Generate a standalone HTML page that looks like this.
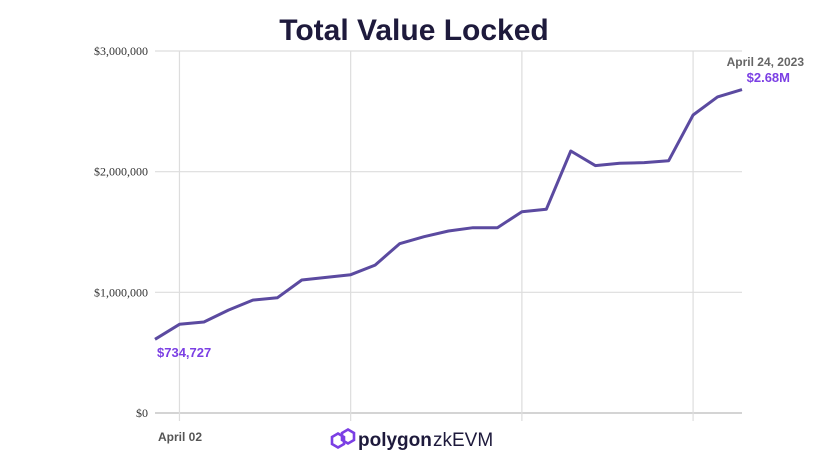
<!DOCTYPE html>
<html><head><meta charset="utf-8"><style>
body{margin:0;background:#fff;width:829px;height:461px;overflow:hidden}
svg{display:block}
</style></head><body>
<svg id="chart" width="829" height="461" xmlns="http://www.w3.org/2000/svg">
<text x="414" y="40" text-anchor="middle" font-family="Liberation Sans, sans-serif" font-weight="bold" font-size="30" fill="#1e1a3c">Total Value Locked</text>
<g id="grid"></g><g id="yticks"></g>
<path id="line" fill="none" stroke="#5b4aa0" stroke-width="3" stroke-linejoin="round"/>
<text x="157" y="357" font-family="Liberation Sans, sans-serif" font-weight="bold" font-size="13" fill="#7b3fe4">$734,727</text>
<text x="158" y="441" font-family="Liberation Sans, sans-serif" font-weight="bold" font-size="12" fill="#555">April 02</text>
<text x="804" y="66" text-anchor="end" font-family="Liberation Sans, sans-serif" font-weight="bold" font-size="12" fill="#666">April 24, 2023</text>
<text x="790" y="82" text-anchor="end" font-family="Liberation Sans, sans-serif" font-weight="bold" font-size="13" fill="#7b3fe4">$2.68M</text>
<g>
<path d="M332 437 l6-3.5 6 3.5 v7 l-6 3.5 -6-3.5z M342 433 l6-3.5 6 3.5 v7 l-6 3.5 -6-3.5z" fill="none" stroke="#7b3fe4" stroke-width="2.6"/>
<text x="358" y="446" font-family="Liberation Sans, sans-serif" font-weight="bold" font-size="19" fill="#1e1a3c">polygon</text>
<text x="433" y="446" font-family="Liberation Sans, sans-serif" font-size="19" fill="#1e1a3c">zkEVM</text>
</g>
</svg>
<script>
const values=[0.611,0.735,0.754,0.853,0.936,0.955,1.102,1.124,1.146,1.226,1.403,1.461,1.508,1.536,1.536,1.668,1.688,2.171,2.05,2.069,2.075,2.09,2.47,2.62,2.68];
const yTicks=[0,1000000,2000000,3000000];
const yTickLabels=["$0","$1,000,000","$2,000,000","$3,000,000"];
const xGridIdx=[1,8,15,22];
const ns="http://www.w3.org/2000/svg";
const X=i=>155+i*(742-155)/(values.length-1);
const Y=v=>413-v/3000000*362;
const grid=document.getElementById('grid'),yt=document.getElementById('yticks');
yTicks.forEach((t,k)=>{
 const l=document.createElementNS(ns,'line');
 l.setAttribute('x1',155);l.setAttribute('x2',742);l.setAttribute('y1',Y(t));l.setAttribute('y2',Y(t));
 l.setAttribute('stroke',k==0?'#bbb':'#ddd');l.setAttribute('stroke-width',1.2);
 
 
 grid.appendChild(l);
 const tx=document.createElementNS(ns,'text');
 tx.setAttribute('x',148);tx.setAttribute('y',Y(t)+4);tx.setAttribute('text-anchor','end');
 tx.setAttribute('font-family','Liberation Serif, serif');tx.setAttribute('font-size','12');tx.setAttribute('fill','#333');
 tx.textContent=yTickLabels[k];
 
 
 yt.appendChild(tx);
});
xGridIdx.forEach(i=>{
 const l=document.createElementNS(ns,'line');
 l.setAttribute('x1',X(i));l.setAttribute('x2',X(i));l.setAttribute('y1',51);l.setAttribute('y2',421);
 l.setAttribute('stroke','#ddd');l.setAttribute('stroke-width',1.2);
 
 
 grid.appendChild(l);
});
document.getElementById('line').setAttribute('d',values.map((v,i)=>(i?'L':'M')+X(i).toFixed(1)+' '+Y(v*1e6).toFixed(1)).join(' '));
</script>
</body></html>
